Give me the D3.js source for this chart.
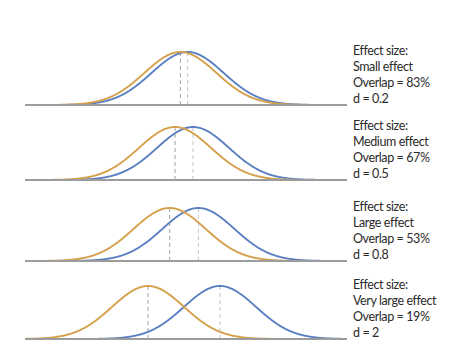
<!DOCTYPE html>
<html>
<head>
<meta charset="utf-8">
<script src="https://cdn.jsdelivr.net/npm/d3@7"></script>
<style>
  html, body { margin: 0; padding: 0; background: #fff; }
  svg { display: block; }
</style>
</head>
<body>
<svg id="chart" width="474" height="354"></svg>
<script>
// effect-size panels, top to bottom
const effectLabels = ["Small effect", "Medium effect", "Large effect", "Very large effect"];
const overlapPct   = [83, 67, 53, 19];
const dValues      = [0.2, 0.5, 0.8, 2];

(() => {
  const svg = d3.select("#chart");
  const ORANGE = "#d5a04b", BLUE = "#5b80c2";
  const baselines = [105, 180, 261, 339];
  const peakH = 53;

  // x in standard-deviation units, centred between the two means
  const x = d3.scaleLinear().domain([-4.42, 4.53]).range([25, 347]);
  const xs = d3.range(-4.42, 4.5301, 0.02);
  const pdf = (v, mu) => Math.exp(-0.5 * (v - mu) * (v - mu));

  dValues.forEach((d, i) => {
    const base = baselines[i];
    const y = d3.scaleLinear().domain([0, 1]).range([base, base - peakH]);
    const g = svg.append("g");

    const means = [-d / 2, d / 2];
    const dashCol = ["#a9a9a9", "#c9c9c9"];
    means.forEach((m, k) => {
      g.append("line")
        .attr("x1", x(m)).attr("x2", x(m))
        .attr("y1", y(1)).attr("y2", base - 1)
        .attr("stroke", dashCol[k]).attr("stroke-width", 1.1)
        .attr("stroke-dasharray", "4 3");
    });

    const line = d3.line().x(v => x(v)).curve(d3.curveBasis);
    [[means[1], BLUE], [means[0], ORANGE]].forEach(([m, col]) => {
      g.append("path")
        .attr("fill", "none").attr("stroke", col).attr("stroke-width", 1.9)
        .attr("d", line.y(v => y(pdf(v, m)))(xs));
    });

    // axis baseline, on top so the tails sink into it
    g.append("line")
      .attr("x1", x.range()[0]).attr("x2", x.range()[1])
      .attr("y1", base).attr("y2", base)
      .attr("stroke", "#9c9c9c").attr("stroke-width", 2.2);

    // label block
    const lines = ["Effect size:", effectLabels[i], `Overlap = ${overlapPct[i]}%`, `d = ${d}`];
    const t = svg.append("text")
      .attr("font-family", "Lato, sans-serif")
      .attr("font-size", 12.5).attr("letter-spacing", -0.4).attr("fill", "#2a2a2a");
    lines.forEach((s, k) => {
      t.append("tspan").attr("x", 353).attr("y", base - 2 - (3 - k) * 16).text(s);
    });
  });
})();
</script>
</body>
</html>
